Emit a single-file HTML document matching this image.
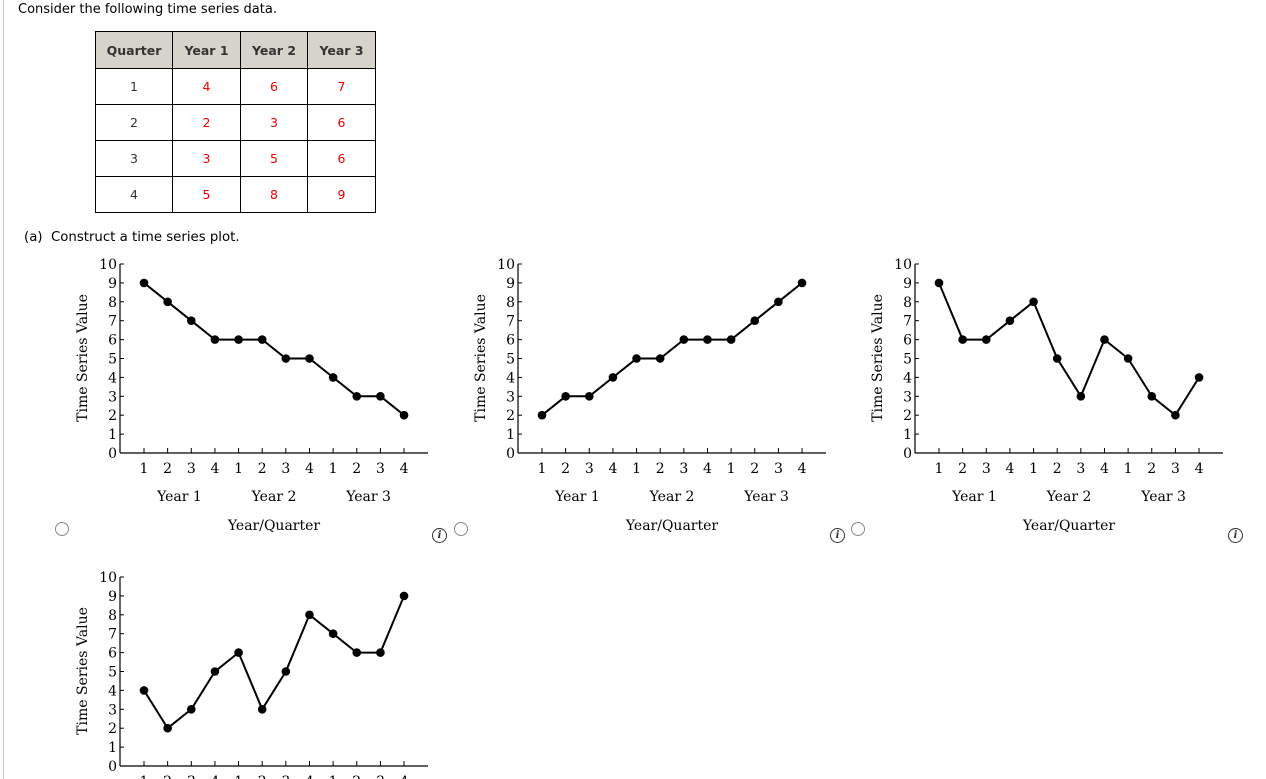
<!DOCTYPE html>
<html><head><meta charset="utf-8">
<style>
html,body{margin:0;width:1266px;height:779px;overflow:hidden}
body{background:#fff;position:relative;font-family:"DejaVu Sans","Liberation Sans",sans-serif;font-size:13px;color:#000}
.abs{position:absolute}
table{border-collapse:collapse;position:absolute;left:95px;top:31px}
td,th{border:1px solid #000;text-align:center;font-size:12.5px;padding:0}
th{background:#d6d3ca;color:#333;height:36px;font-weight:bold}
td{height:35px;color:#333}
td.v{color:#e00}
.radio{position:absolute;width:12px;height:12px;border:1px solid #888;border-radius:50%;background:#fff}
.info{position:absolute;width:13px;height:13px;border:1px solid #333;border-radius:50%;font:italic bold 10px "DejaVu Serif",serif;text-align:center;line-height:13px;color:#333}
svg text{font-family:"DejaVu Serif","Liberation Serif",serif;font-size:14px}
</style></head><body>
<div class="abs" style="left:3px;top:0;width:1px;height:779px;background:#ccc"></div>
<div class="abs" style="left:18px;top:2px">Consider the following time series data.</div>
<table>
<tr><th style="width:76px">Quarter</th><th style="width:67px">Year 1</th><th style="width:66px">Year 2</th><th style="width:67px">Year 3</th></tr>
<tr><td>1</td><td class="v">4</td><td class="v">6</td><td class="v">7</td></tr>
<tr><td>2</td><td class="v">2</td><td class="v">3</td><td class="v">6</td></tr>
<tr><td>3</td><td class="v">3</td><td class="v">5</td><td class="v">6</td></tr>
<tr><td>4</td><td class="v">5</td><td class="v">8</td><td class="v">9</td></tr>
</table>
<div class="abs" style="left:24px;top:230px;font-size:13.3px">(a)&nbsp;&nbsp;Construct a time series plot.</div>
<div class="radio" style="left:55px;top:522px"></div>
<div class="radio" style="left:454px;top:522px"></div>
<div class="radio" style="left:851px;top:522px"></div>
<div class="info" style="left:432px;top:528px">i</div>
<div class="info" style="left:830px;top:528px">i</div>
<div class="info" style="left:1228px;top:528px">i</div>
<svg id="charts" class="abs" style="left:0;top:0" width="1266" height="779"></svg>
<script>
const quarters=["1","2","3","4","1","2","3","4","1","2","3","4"];
const years=["Year 1","Year 2","Year 3"];
const yTicks=[0,1,2,3,4,5,6,7,8,9,10];
const seriesA=[9,8,7,6,6,6,5,5,4,3,3,2];
const seriesB=[2,3,3,4,5,5,6,6,6,7,8,9];
const seriesC=[9,6,6,7,8,5,3,6,5,3,2,4];
const seriesD=[4,2,3,5,6,3,5,8,7,6,6,9];
const NS="http://www.w3.org/2000/svg";
const svg=document.getElementById('charts');
function mk(tag,attrs,parent,txt){const e=document.createElementNS(NS,tag);for(const k in attrs)e.setAttribute(k,attrs[k]);if(txt!==undefined)e.textContent=txt;parent.appendChild(e);return e;}
function chart(data,ox,oy,name){
  const g=mk('g',{},svg);
  
  
  const axX=ox+120, y0=oy+453, unit=18.9, x0=ox+144, dx=23.64;
  const xs=i=>x0+i*dx, ys=v=>y0-v*unit;
  mk('line',{x1:axX,y1:ys(10),x2:axX,y2:y0,stroke:'#000','stroke-width':1.2},g);
  mk('line',{x1:axX,y1:y0,x2:ox+428,y2:y0,stroke:'#000','stroke-width':1.2},g);
  yTicks.forEach(v=>{mk('line',{x1:axX,y1:ys(v),x2:axX+4,y2:ys(v),stroke:'#000'},g);
    mk('text',{x:axX-3,y:ys(v)+5,'text-anchor':'end'},g,v);});
  quarters.forEach((q,i)=>{mk('line',{x1:xs(i),y1:y0,x2:xs(i),y2:y0-5,stroke:'#000'},g);
    mk('text',{x:xs(i),y:y0+20,'text-anchor':'middle'},g,q);});
  years.forEach((yv,j)=>mk('text',{x:(xs(j*4)+xs(j*4+3))/2,y:y0+48,'text-anchor':'middle'},g,yv));
  mk('text',{x:ox+274,y:y0+77,'text-anchor':'middle','font-size':15},g,'Year/Quarter');
  mk('text',{x:0,y:0,'text-anchor':'middle',transform:`translate(${ox+87},${oy+358}) rotate(-90)`,'font-size':15},g,'Time Series Value');
  const pts=data.map((v,i)=>xs(i)+','+ys(v)).join(' ');
  const pl=mk('polyline',{points:pts,fill:'none',stroke:'#000','stroke-width':2},g);
  
  
  data.forEach((v,i)=>{const c=mk('circle',{cx:xs(i),cy:ys(v),r:4.3,fill:'#000'},g);
    
    });
}
chart(seriesA,0,0,'chart-option-1');
chart(seriesB,398,0,'chart-option-2');
chart(seriesC,795,0,'chart-option-3');
chart(seriesD,0,313,'chart-option-4');
</script>
</body></html>
